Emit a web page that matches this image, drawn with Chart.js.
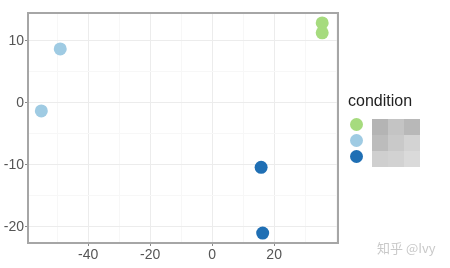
<!DOCTYPE html>
<html>
<head>
<meta charset="utf-8">
<script src="https://cdn.jsdelivr.net/npm/chart.js@4"></script>
<style>
	html, body { margin: 0; padding: 0; background: #fff; }
	#wrap { position: relative; width: 450px; height: 268px; overflow: hidden; }
	#legend { position: absolute; left: 348px; top: 92px; font-family: 'Liberation Sans', Arial, sans-serif; }
	#legend .title { font-size: 16px; color: #222; }
	.key { position: absolute; width: 13px; height: 13px; border-radius: 50%; }
	.blur { position: absolute; width: 16px; height: 16px; }
	#mark { position: absolute; left: 377px; top: 238px; font-family: 'Noto Sans CJK SC', sans-serif; font-size: 13px; color: #c9c9c9; }
</style>
</head>
<body>
<div id="wrap">
	<canvas id="pca" width="450" height="268"></canvas>
	<div id="legend"><div class="title">condition</div></div>
	<div id="mark">知乎 @Ivy</div>
</div>
<script>
// data
const groups = ['group A', 'group B', 'group C'];
const groupColors = ['#a6db7e', '#9fcbe3', '#1f6fb4'];
const pc1 = [
	[35.5, 35.5],
	[-49.0, -55.1],
	[15.8, 16.3],
];
const pc2 = [
	[12.9, 11.3],
	[8.7, -1.3],
	[-10.4, -21.0],
];
const xTicks = [-50, -40, -30, -20, -10, 0, 10, 20, 30, 40];
const yTicks = [-20, -15, -10, -5, 0, 5, 10];
const xMajor = [-40, -20, 0, 20];
const yMajor = [-20, -10, 0, 10];

const datasets = groups.map((g, i) => ({
	label: g,
	data: pc1[i].map((x, j) => ({ x, y: pc2[i][j] })),
	backgroundColor: groupColors[i],
	borderWidth: 0,
	pointRadius: 6.5,
}));

// panel border like ggplot theme_bw
const panelBorder = {
	id: 'panelBorder',
	afterDraw(chart) {
		const { ctx, chartArea: a } = chart;
		ctx.save();
		ctx.strokeStyle = '#a6a6a6';
		ctx.lineWidth = 2;
		ctx.strokeRect(a.left, a.top, a.right - a.left, a.bottom - a.top);
		ctx.restore();
	},
};

const tickFont = { family: "'Liberation Sans', Arial, sans-serif", size: 14 };

function axis(min, max, ticks, major, size, isX) {
	return {
		type: 'linear',
		min, max,
		afterBuildTicks: (s) => { s.ticks = ticks.map((v) => ({ value: v })); },
		afterFit: (s) => { if (isX) s.height = size; else s.width = size; },
		border: { display: false },
		grid: {
			color: (c) => (major.includes(c.tick?.value) ? '#ececec' : '#f7f7f7'),
			tickColor: (c) => (major.includes(c.tick?.value) ? '#888' : 'rgba(0,0,0,0)'),
			tickLength: 3,
			lineWidth: 1,
		},
		ticks: {
			autoSkip: false,
			maxRotation: 0,
			padding: 1,
			color: '#555',
			font: tickFont,
			callback: (v) => (major.includes(v) ? String(v) : ''),
		},
	};
}

new Chart(document.getElementById('pca'), {
	type: 'scatter',
	data: { datasets },
	options: {
		responsive: false,
		animation: false,
		layout: { padding: { top: 13, right: 112, left: 0, bottom: 0 } },
		plugins: { legend: { display: false }, tooltip: { enabled: false } },
		scales: {
			x: axis(-59.4, 40.6, xTicks, xMajor, 25, true),
			y: axis(-22.6, 14.5, yTicks, yMajor, 28, false),
		},
	},
	plugins: [panelBorder],
});

// legend keys (labels are pixelated in the source)
const legend = document.getElementById('legend');
groupColors.forEach((c, i) => {
	const k = document.createElement('div');
	k.className = 'key';
	k.style.background = c;
	k.style.left = '2px';
	k.style.top = 26 + i * 16 + 'px';
	legend.appendChild(k);
});
const blurShades = [
	['#b4b4b4', '#c4c4c4', '#b8b8b8'],
	['#bcbcbc', '#c9c9c9', '#d3d3d3'],
	['#cfcfcf', '#d2d2d2', '#dadada'],
];
blurShades.forEach((row, r) => row.forEach((c, j) => {
	const b = document.createElement('div');
	b.className = 'blur';
	b.style.background = c;
	b.style.left = 24 + j * 16 + 'px';
	b.style.top = 27 + r * 16 + 'px';
	legend.appendChild(b);
}));
</script>
</body>
</html>
